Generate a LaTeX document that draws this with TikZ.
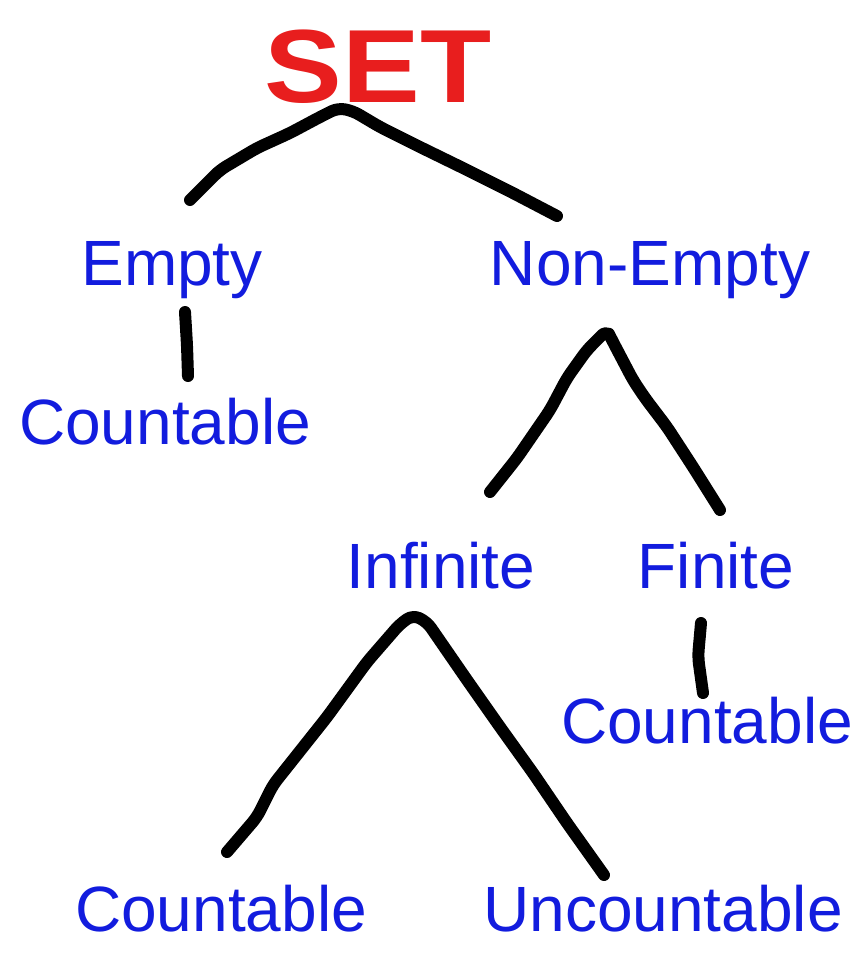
\documentclass[tikz,border=0pt]{standalone}
\usepackage{fontspec}
\setmainfont{Liberation Sans}
\definecolor{labelblue}{RGB}{18,28,222}
\definecolor{titlered}{RGB}{232,30,30}
\tikzset{
  lbl/.style={text=labelblue, font=\fontsize{64}{70}\selectfont, anchor=base, inner sep=0pt},
  title/.style={text=titlered, font=\bfseries\fontsize{104}{110}\selectfont, anchor=base, inner sep=0pt, xscale=1.12},
  stroke/.style={line width=12pt, line cap=round, line join=round, rounded corners=7pt},
}
\begin{document}
\begin{tikzpicture}[x=1pt,y=-1pt]
  \useasboundingbox (0,0) rectangle (864,980);
  % labels
  \node[title] (set) at (378,102) {SET};
  \node[lbl] (empty) at (172,285) {Empty};
  \node[lbl] (nonempty) at (650,285) {Non-Empty};
  \node[lbl] (emptycount) at (165,444) {Countable};
  \node[lbl] (infinite) at (441,588) {Infinite};
  \node[lbl] (finite) at (716,588) {Finite};
  \node[lbl] (finitecount) at (707,743) {Countable};
  \node[lbl] (infcount) at (221,931) {Countable};
  \node[lbl] (uncount) at (663,931) {Uncountable};
  % branch ends
  \coordinate (setL) at (190,200);
  \coordinate (setpeak) at (338,108);
  \coordinate (setR) at (557,216);
  \coordinate (emptyT) at (185,312);
  \coordinate (emptyB) at (188,376);
  \coordinate (nonL) at (490,492);
  \coordinate (nonpeak) at (607,330);
  \coordinate (nonR) at (720,510);
  \coordinate (finT) at (701,623);
  \coordinate (finB) at (703,693);
  \coordinate (infL) at (227,852);
  \coordinate (infpeak) at (413,615);
  \coordinate (infR) at (604,875);
  % strokes
  \draw[stroke] (setL) -- (220,170) -- (257,148) -- (290,133) -- (320,117) -- (setpeak)
    -- (353,111) -- (380,127) -- (420,147) -- (463,168) -- (513,193) -- (setR);
  \draw[stroke] (emptyT) -- (187,345) -- (emptyB);
  \draw[stroke] (nonL) -- (517,458) -- (550,410) -- (567,378) -- (587,350) -- (nonpeak)
    -- (612,340) -- (633,380) -- (645,398) -- (667,427) -- (693,467) -- (nonR);
  \draw[stroke] (finT) -- (698,657) -- (finB);
  \draw[stroke] (infL) -- (257,817) -- (273,785) -- (327,717) -- (367,662) -- (400,624) -- (infpeak)
    -- (427,622) -- (467,680) -- (500,727) -- (533,773) -- (567,823) -- (infR);
\end{tikzpicture}
\end{document}
